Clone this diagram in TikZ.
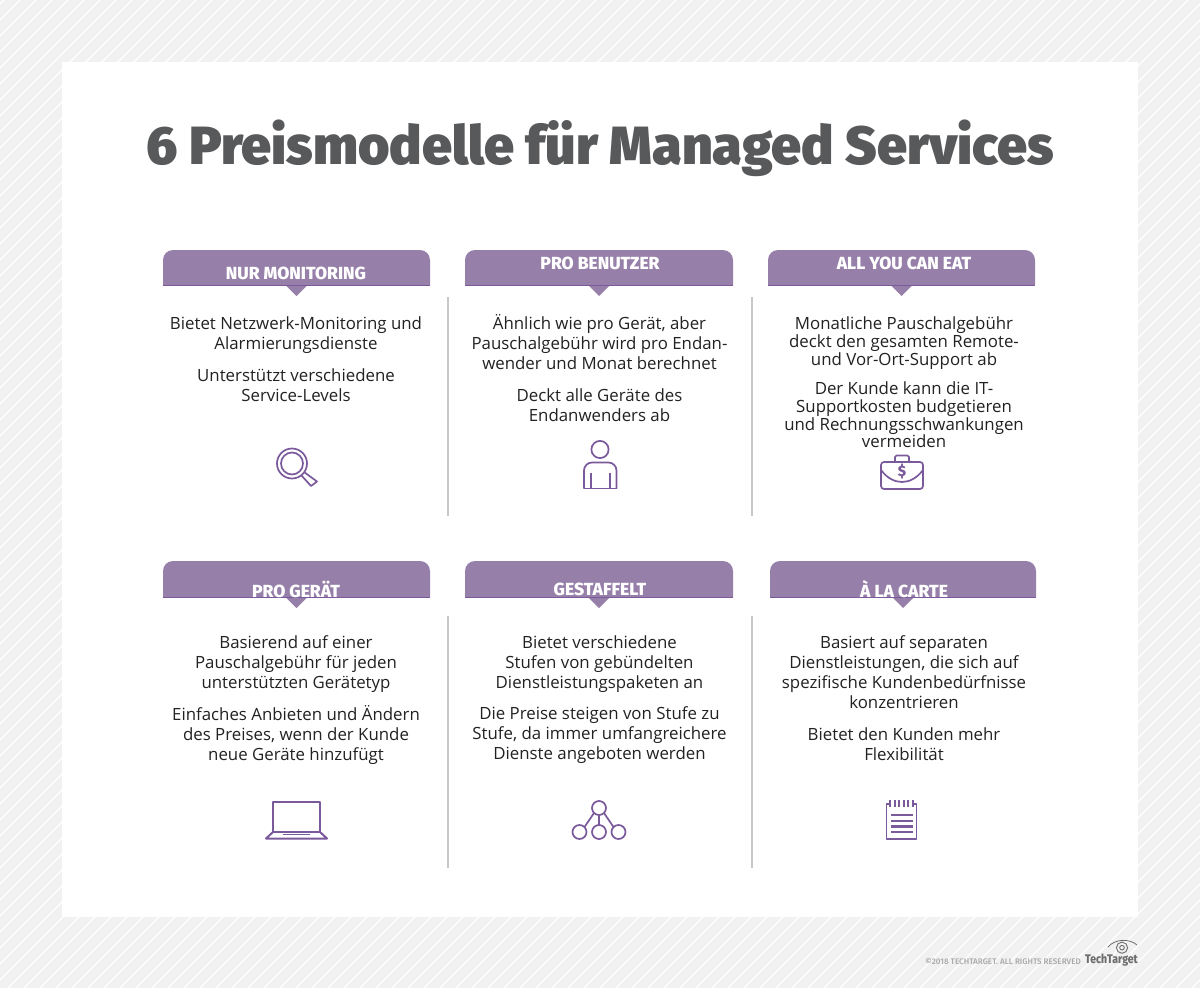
\documentclass[tikz,border=0pt]{standalone}
\usepackage{fontspec}
\setmainfont{Open Sans}
\newfontfamily\titlefont{Fira Sans}[UprightFont=* Black]
\newfontfamily\headfont{Fira Sans}[UprightFont=* ExtraBold]
\newfontfamily\footfont{Fira Sans}[UprightFont=* Medium]
\definecolor{bgcol}{HTML}{F1F1F1}
\definecolor{headcol}{HTML}{967FA9}
\definecolor{iconcol}{HTML}{7B5A9C}
\definecolor{txtcol}{HTML}{222222}
\definecolor{titlecol}{HTML}{58595B}
\definecolor{divcol}{HTML}{C9C8C9}
\definecolor{footcol}{HTML}{A8A8A8}
\definecolor{logocol}{HTML}{6D6E70}
\tikzset{
  x=1bp,y=-1bp,
  bodytext/.style={align=center,inner sep=0pt,text=txtcol,font=\fontsize{16.9}{20}\selectfont},
  tighttext/.style={align=center,inner sep=0pt,text=txtcol,font=\fontsize{16.9}{17.8}\selectfont},
  headtext/.style={inner sep=0pt,text=white,font=\headfont\fontsize{17.6}{18}\selectfont},
  divider/.style={draw=divcol,line width=1.8bp},
  icon/.style={draw=iconcol,line width=1.7bp,line join=round},
}
\newcommand{\headbox}[4]{% x1, x2, ytop, ybottom
  \fill[headcol] (#1,#4) -- (#1,#3+10) .. controls (#1,#3+4.5) and (#1+4.5,#3) .. (#1+10,#3) -- (#2-10,#3) .. controls (#2-4.5,#3) and (#2,#3+4.5) .. (#2,#3+10) -- (#2,#4) -- ({(#1+#2)/2+11},#4) -- ({(#1+#2)/2},#4+11) -- ({(#1+#2)/2-11},#4) -- cycle;
  \draw[iconcol,line width=.8bp] (#1,#4) -- (#2,#4);
}
\begin{document}
\begin{tikzpicture}
\useasboundingbox (0,0) rectangle (1200,988);
\fill[bgcol] (0,0) rectangle (1200,988);
\begin{scope}
\clip (0,0) rectangle (1200,988);
\foreach \i in {-1000,-984,...,1210}{
  \draw[white,line width=1.3bp] (\i,988) -- (\i+988,0);
}
\end{scope}
\fill[white] (62,62) rectangle (1138,917);

\node[inner sep=0pt,text=titlecol,font=\titlefont\fontsize{54}{60}\selectfont] (title) at (600,148) {6 Preismodelle für Managed Services};

% headers
\headbox{163}{430}{250}{285}
\headbox{465}{733}{250}{285}
\headbox{768}{1035}{250}{285}
\headbox{163}{430}{561}{597}
\headbox{465}{733}{561}{597}
\headbox{770}{1036}{561}{597}
\node[headtext] (h1) at (296,273) {NUR MONITORING};
\node[headtext] (h2) at (600,263) {PRO BENUTZER};
\node[headtext] (h3) at (904,263) {ALL YOU CAN EAT};
\node[headtext] (h4) at (296,589) {PRO GERÄT};
\node[headtext] (h5) at (600,589) {GESTAFFELT};
\node[headtext] (h6) at (904,589) {À LA CARTE};

% dividers
\draw[divider] (448,297) -- (448,516);
\draw[divider] (752,297) -- (752,516);
\draw[divider] (448,616) -- (448,868);
\draw[divider] (752,616) -- (752,868);

% body
\node[bodytext] (a1) at (296,335) {Bietet Netzwerk-Monitoring und\\Alarmierungsdienste};
\node[bodytext] (a2) at (296,385) {Unterstützt verschiedene\\Service-Levels};
\node[bodytext] (b1) at (599.5,342) {Ähnlich wie pro Gerät, aber\\Pauschalgebühr wird pro Endan-\\wender und Monat berechnet};
\node[bodytext] (b2) at (599.5,405) {Deckt alle Geräte des\\Endanwenders ab};
\node[tighttext] (c1) at (904,343) {Monatliche Pauschalgebühr\\deckt den gesamten Remote-\\und Vor-Ort-Support ab};
\node[tighttext] (c2) at (904,415) {Der Kunde kann die IT-\\Supportkosten budgetieren\\und Rechnungsschwankungen\\vermeiden};
\node[bodytext] (d1) at (296,664) {Basierend auf einer\\Pauschalgebühr für jeden\\unterstützten Gerätetyp};
\node[bodytext] (d2) at (296,735) {Einfaches Anbieten und Ändern\\des Preises, wenn der Kunde\\neue Geräte hinzufügt};
\node[bodytext] (e1) at (599.5,664) {Bietet verschiedene\\Stufen von gebündelten\\Dienstleistungspaketen an};
\node[bodytext] (e2) at (599.5,735) {Die Preise steigen von Stufe zu\\Stufe, da immer umfangreichere\\Dienste angeboten werden};
\node[bodytext] (f1) at (904,672) {Basiert auf separaten\\Dienstleistungen, die sich auf\\spezifische Kundenbedürfnisse\\konzentrieren};
\node[bodytext] (f2) at (904,744) {Bietet den Kunden mehr\\Flexibilität};

% magnifier
\draw[icon] (292,463.5) circle[radius=15];
\draw[icon] (292,463.5) circle[radius=11];
\draw[icon] (304,472) -- (317,481.5) -- (311,486) -- (301.5,475.5);
% person
\draw[icon] (600,449.5) circle[radius=8.6];
\draw[icon,rounded corners=8bp] (584,488.5) -- (584,462.5) -- (616.5,462.5) -- (616.5,488.5);
\draw[icon] (584,488.5) -- (616.5,488.5);
\draw[icon] (591,473) -- (591,488.5) (610,473) -- (610,488.5);
% briefcase
\draw[icon,rounded corners=3bp] (881,462) rectangle (923,489);
\draw[icon] (881,470) .. controls (893,486) and (911,486) .. (923,470);
\draw[icon,rounded corners=1.5bp] (895,462) -- (895,455.5) -- (909,455.5) -- (909,462);
\node[inner sep=0pt,text=iconcol,font=\headfont\fontsize{15}{16}\selectfont] (dollar) at (902,471.5) {\$};
% laptop
\draw[icon,line width=2bp] (273,802) rectangle (320,832);
\draw[icon,line width=2bp] (273,832) -- (266,838.5) -- (327,838.5) -- (320,832);
\draw[icon] (283,834.5) -- (310,834.5);
% hierarchy
\draw[icon] (599,808) circle[radius=7];
\draw[icon] (579.5,832) circle[radius=7];
\draw[icon] (599,832) circle[radius=7];
\draw[icon] (618.5,832) circle[radius=7];
\draw[icon] (594,813) -- (584.5,827);
\draw[icon] (599,815) -- (599,825);
\draw[icon] (604,813) -- (613.5,827);
% notepad
\draw[icon,line width=1.8bp] (889,804) -- (886.5,804) -- (886.5,839) -- (916.5,839) -- (916.5,804) -- (914,804);
\foreach \i in {890,894.6,899.2,903.8,908.4,913}{
  \draw[icon,line width=2bp] (\i,800) -- (\i,807);
}
\foreach \j in {815,821,826.5,832}{
  \draw[icon,line width=2.2bp] (891,\j) -- (913,\j);
}

% footer
\node[inner sep=0pt,anchor=east,text=footcol,font=\footfont\fontsize{8.15}{9}\selectfont] (copy) at (1081,961) {©2018 TECHTARGET. ALL RIGHTS RESERVED};
\node[inner sep=0pt,anchor=east,text=logocol,xscale=.84,font=\headfont\fontsize{12.5}{14}\selectfont] (logo) at (1138,960) {TechTarget};
\draw[logocol,line width=.8bp] (1108,947) .. controls (1115,938.5) and (1130,938.5) .. (1137,945);
\draw[logocol,line width=.9bp] (1122,947.7) circle[radius=5.6];
\draw[logocol,line width=.9bp] (1122,947.7) circle[radius=2.3];
\end{tikzpicture}
\end{document}
